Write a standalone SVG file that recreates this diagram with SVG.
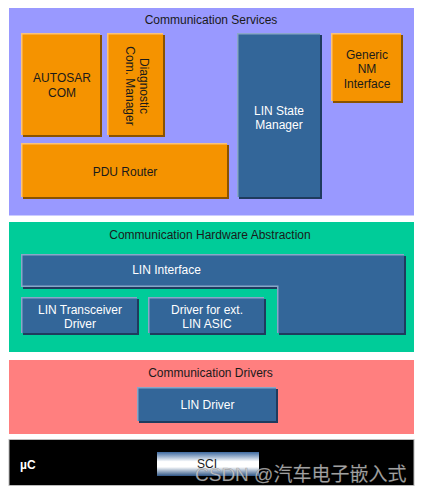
<svg xmlns="http://www.w3.org/2000/svg" width="423" height="495" viewBox="0 0 423 495">
<style>
text{font-family:"Liberation Sans",Arial,sans-serif;font-size:12px;text-anchor:middle}
.dk{fill:#1a1a1a}
.wt{fill:#ffffff}
.o-sh{fill:#8a5300}
.o-hi{fill:#fbc27a}
.o{fill:#f59300}
.b-sh{fill:#1f3b5e}
.b-hi{fill:#8aa6c8}
.b{fill:#336699}
</style>
<defs>
<linearGradient id="sci" x1="0" y1="0" x2="0" y2="1">
<stop offset="0" stop-color="#3e6aa0"/>
<stop offset="0.4" stop-color="#ffffff"/>
<stop offset="0.62" stop-color="#ffffff"/>
<stop offset="1" stop-color="#2f5686"/>
</linearGradient>
</defs>
<rect width="423" height="495" fill="#ffffff"/>

<g id="communication-services">
<rect x="9" y="8" width="405" height="207.5" fill="#9999ff"/>
<text class="dk" x="211" y="24">Communication Services</text>
</g>

<g id="autosar-com">
<rect class="o-sh" x="23" y="35" width="79" height="102"/>
<rect class="o-hi" x="21" y="33" width="79" height="102"/>
<rect class="o" x="22.5" y="34.5" width="77.5" height="100.5"/>
<text class="dk" x="62" y="82">AUTOSAR</text>
<text class="dk" x="62" y="97">COM</text>
</g>

<g id="diagnostic-com-manager">
<rect class="o-sh" x="109" y="35" width="56" height="102"/>
<rect class="o-hi" x="107" y="33" width="56" height="102"/>
<rect class="o" x="108.5" y="34.5" width="54.5" height="100.5"/>
<g transform="translate(136,86) rotate(90)">
<text class="dk" x="0" y="-4">Diagnostic</text>
<text class="dk" x="0" y="10">Com. Manager</text>
</g>
</g>

<g id="pdu-router">
<rect class="o-sh" x="23" y="145" width="206" height="54"/>
<rect class="o-hi" x="21" y="143" width="206" height="54"/>
<rect class="o" x="22.5" y="144.5" width="204.5" height="52.5"/>
<text class="dk" x="125" y="176">PDU Router</text>
</g>

<g id="lin-state-manager">
<rect class="b-sh" x="239" y="35" width="83" height="164"/>
<rect class="b-hi" x="237" y="33" width="83" height="164"/>
<rect class="b" x="238.5" y="34.5" width="81.5" height="162.5"/>
<text class="wt" x="279" y="114.5">LIN State</text>
<text class="wt" x="279" y="129">Manager</text>
</g>

<g id="generic-nm-interface">
<rect class="o-sh" x="333" y="35" width="70" height="68"/>
<rect class="o-hi" x="331" y="33" width="70" height="68"/>
<rect class="o" x="332.5" y="34.5" width="68.5" height="66.5"/>
<text class="dk" x="367" y="58.5">Generic</text>
<text class="dk" x="367" y="73">NM</text>
<text class="dk" x="367" y="87.5">Interface</text>
</g>

<g id="communication-hardware-abstraction">
<rect x="9" y="222" width="405" height="130" fill="#00cc99"/>
<text class="dk" x="210" y="239">Communication Hardware Abstraction</text>
</g>

<g id="lin-interface">
<path class="b-sh" d="M23,256H406V335H279V289H23Z"/>
<path class="b-hi" d="M21,254H404V333H277V287H21Z"/>
<path class="b" d="M22.5,255.5H404V333H278.5V285.5H22.5Z"/>
<text class="wt" x="166.5" y="273.5">LIN Interface</text>
</g>

<g id="lin-transceiver-driver">
<rect class="b-sh" x="23" y="299" width="116" height="36"/>
<rect class="b-hi" x="21" y="297" width="116" height="36"/>
<rect class="b" x="22.5" y="298.5" width="114.5" height="34.5"/>
<text class="wt" x="80" y="313.5">LIN Transceiver</text>
<text class="wt" x="80" y="328">Driver</text>
</g>

<g id="driver-ext-lin-asic">
<rect class="b-sh" x="150" y="299" width="116" height="36"/>
<rect class="b-hi" x="148" y="297" width="116" height="36"/>
<rect class="b" x="149.5" y="298.5" width="114.5" height="34.5"/>
<text class="wt" x="207" y="313.5">Driver for ext.</text>
<text class="wt" x="207" y="328">LIN ASIC</text>
</g>

<g id="communication-drivers">
<rect x="9" y="360" width="405" height="74" fill="#ff7f7f"/>
<text class="dk" x="210.5" y="377">Communication Drivers</text>
</g>

<g id="lin-driver">
<rect class="b-sh" x="139" y="389" width="139" height="34"/>
<rect class="b-hi" x="137" y="387" width="139" height="34"/>
<rect class="b" x="138.5" y="388.5" width="137.5" height="32.5"/>
<text class="wt" x="207.5" y="408.5">LIN Driver</text>
</g>

<g id="microcontroller">
<rect x="9" y="439.5" width="405" height="46" fill="#000000" stroke="#bbbbbb" stroke-width="1"/>
<text class="wt" x="20" y="468.5" style="text-anchor:start;font-weight:bold">µC</text>
</g>

<g id="sci">
<rect x="157" y="452" width="102" height="24" fill="url(#sci)"/>
<text class="dk" x="207" y="468">SCI</text>
</g>

<text x="195" y="480.5" style="text-anchor:start;font-size:19px;font-family:'Liberation Sans','Noto Sans CJK SC',sans-serif" fill="#d8d8d8" fill-opacity="0.8" stroke="#555555" stroke-opacity="0.4" stroke-width="0.6">CSDN @汽车电子嵌入式</text>
</svg>
